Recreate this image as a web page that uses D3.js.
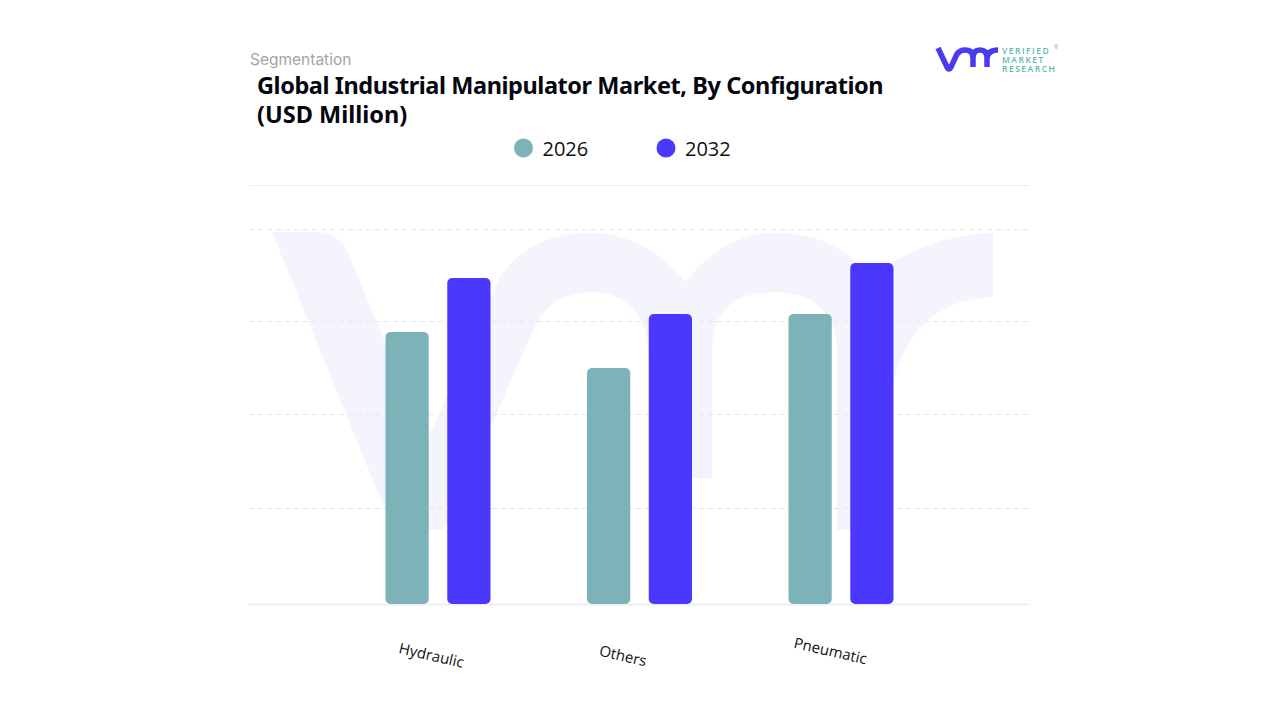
<!DOCTYPE html>
<html>
<head>
<meta charset="utf-8">
<script src="https://cdn.jsdelivr.net/npm/d3@7/dist/d3.min.js"></script>
<style>
  html, body { margin: 0; padding: 0; background: #fff; }
  svg { display: block; }
</style>
</head>
<body>
<div id="chart"></div>
<script>
// data
var categories = ["Hydraulic", "Others", "Pneumatic"];
var years = ["2026", "2032"];
var values2026 = [272, 236, 290];
var values2032 = [326, 290, 341];
// gridlines have no labels in the picture
var gridTicks = [96, 190, 283, 375];
var topTick = 419;

var colors = { "2026": "#7cb3b8", "2032": "#4b38ff" };

var svg = d3.select("#chart").append("svg").attr("width", 1280).attr("height", 720);

// watermark behind the plot
svg.append("path")
  .attr("fill", "#f3f4fc")
  .attr("d", "M272 232 L318 232 Q342 233 352 262 L383 337 L425 440 L433 427 L500 277 " +
    "Q530 233 590 233 Q645 233 685 282 Q725 233 775 233 Q825 233 853 260 L872 276 " +
    "Q925 236 993 233 L993 297 Q905 300 890 400 L890 530 L837 530 L837 345 " +
    "Q830 292 775 292 Q715 292 712 345 L712 478 L655 478 L648 345 Q640 292 590 292 " +
    "Q550 292 533 330 L450 520 L442 530 L395 530 L385 510 Z");

var y = d3.scaleLinear().domain([0, topTick]).range([604, 185]);
var x0 = d3.scaleBand().domain(categories).range([337.5, 942]);
var x1 = d3.scaleBand().domain(years).range([48, 153]).paddingInner(0.3);

// gridlines
var grid = svg.append("g")
  .attr("transform", "translate(249,0)")
  .call(d3.axisLeft(y).tickValues(gridTicks).tickSize(-780).tickFormat(""));
grid.select(".domain").remove();
grid.selectAll(".tick line").attr("stroke", "#e6e6e6").attr("stroke-dasharray", "5 4");

var topLine = svg.append("g")
  .attr("transform", "translate(249,0)")
  .call(d3.axisLeft(y).tickValues([topTick]).tickSize(-780).tickFormat(""));
topLine.select(".domain").remove();
topLine.selectAll(".tick line").attr("stroke", "#eeeeee");

// base line
svg.append("line")
  .attr("x1", 249).attr("x2", 1029)
  .attr("y1", y(0) + 0.5).attr("y2", y(0) + 0.5)
  .attr("stroke", "#eceef2").attr("stroke-width", 2);

// bars
var seriesValues = { "2026": values2026, "2032": values2032 };
years.forEach(function(year) {
  svg.append("g").selectAll("rect")
    .data(seriesValues[year])
    .enter().append("rect")
    .attr("x", function(d, i) { return x0(categories[i]) + x1(year); })
    .attr("y", function(d) { return y(d); })
    .attr("width", x1.bandwidth())
    .attr("height", function(d) { return y(0) - y(d); })
    .attr("rx", 5)
    .attr("fill", colors[year]);
});

// category labels, tilted; the picture does not centre them on the groups
var labelShift = { "Hydraulic": [-8, 1.5], "Others": [-18, 2], "Pneumatic": [-12, -3] };
var xAxis = svg.append("g")
  .attr("transform", "translate(0,604)")
  .call(d3.axisBottom(x0).tickSize(0));
xAxis.select(".domain").remove();
xAxis.selectAll(".tick text")
  .attr("y", 0).attr("dy", 0)
  .attr("text-anchor", "middle")
  .attr("transform", function(d) {
    return "translate(" + labelShift[d][0] + "," + (55 + labelShift[d][1]) + ") rotate(13)";
  })
  .attr("font-family", "'Open Sans'")
  .attr("font-size", 15)
  .attr("fill", "#111");

// heading
svg.append("text")
  .attr("x", 250).attr("y", 65)
  .attr("font-family", "Inter").attr("font-size", 15.5)
  .attr("fill", "#a3a3ab")
  .text("Segmentation");

var titleLines = ["Global Industrial Manipulator Market, By Configuration", "(USD Million)"];
svg.selectAll(".title").data(titleLines).enter().append("text")
  .attr("class", "title")
  .attr("x", 257)
  .attr("y", function(d, i) { return 94 + i * 29; })
  .attr("font-family", "'Noto Sans'").attr("font-weight", 700).attr("font-size", 23.5)
  .attr("letter-spacing", function(d, i) { return i == 0 ? -0.43 : 0; })
  .attr("fill", "#05060f")
  .text(function(d) { return d; });

// legend
var legendX = d3.scaleOrdinal().domain(years).range([523.5, 666]);
var legend = svg.selectAll(".legend").data(years).enter().append("g")
  .attr("class", "legend")
  .attr("transform", function(d) { return "translate(" + legendX(d) + ",148)"; });
legend.append("circle").attr("r", 9.5).attr("fill", function(d) { return colors[d]; });
legend.append("text")
  .attr("x", 19).attr("y", 8)
  .attr("font-family", "'Open Sans'").attr("font-size", 20)
  .attr("fill", "#111")
  .text(function(d) { return d; });

// logo
svg.append("path")
  .attr("fill", "none").attr("stroke", "#4b3bf0").attr("stroke-width", 5.5)
  .attr("stroke-linejoin", "round")
  .attr("d", "M938 48 L947 67 Q949 71 951 67 L957 54 Q960 50 965 50 Q973 50 973 58 L973 67 M973 58 Q973 50 980 50 Q987 50 987 58 L987 67 M987 58 Q988 50 998 50");
var logoLines = ["VERIFIED", "MARKET", "RESEARCH"];
svg.selectAll(".logo").data(logoLines).enter().append("text")
  .attr("class", "logo")
  .attr("x", 1002)
  .attr("y", function(d, i) { return 53.5 + i * 9.3; })
  .attr("font-family", "'Open Sans'").attr("font-size", 8.5).attr("font-weight", 600)
  .attr("letter-spacing", 1.5)
  .attr("fill", "#5fb8af")
  .text(function(d) { return d; });
svg.append("text")
  .attr("x", 1054).attr("y", 49)
  .attr("font-family", "'Open Sans'").attr("font-size", 5)
  .attr("fill", "#5fb8af")
  .text("®");
</script>
</body>
</html>
